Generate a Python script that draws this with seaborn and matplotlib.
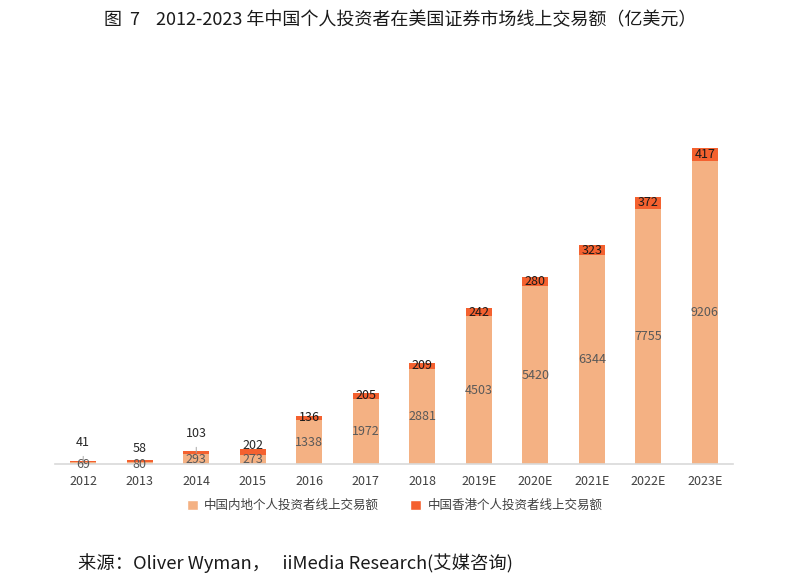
import seaborn as sns
import matplotlib.pyplot as plt
from matplotlib.patches import Patch
import numpy as np
import pandas as pd

years = ["2012", "2013", "2014", "2015", "2016", "2017", "2018",
         "2019E", "2020E", "2021E", "2022E", "2023E"]
mainland = [69, 80, 293, 273, 1338, 1972, 2881, 4503, 5420, 6344, 7755, 9206]
hongkong = [41, 58, 103, 202, 136, 205, 209, 242, 280, 323, 372, 417]

c_main = '#F4B183'
c_hk = '#F4612F'

sns.set_style("white")
plt.rcParams['font.family'] = ['Noto Sans CJK SC', 'DejaVu Sans']

df = pd.DataFrame({"year": years, "mainland": mainland, "hk": hongkong})
df["total"] = df["mainland"] + df["hk"]

fig = plt.figure(figsize=(7.85, 5.78), dpi=100)
ax = fig.add_axes([0.07, 0.197, 0.864, 0.57])

# total first (HK colour), mainland drawn on top -> stacked look
sns.barplot(data=df, x="year", y="total", color=c_hk, width=0.46,
            saturation=1, linewidth=0, ax=ax)
sns.barplot(data=df, x="year", y="mainland", color=c_main, width=0.46,
            saturation=1, linewidth=0, ax=ax)

ax.set_xlim(-0.5, len(years) - 0.5)
ax.set_ylim(0, 9623 / (464 - 147) * (464 - 134))
ax.set_xlabel("")
ax.set_ylabel("")
ax.set_yticks([])
for s in ["top", "right", "left"]:
    ax.spines[s].set_visible(False)
ax.spines["bottom"].set_color("#D9D9D9")
ax.spines["bottom"].set_linewidth(1.2)
ax.tick_params(axis="x", length=0, labelsize=9, colors="#404040", pad=8)

# value labels; tiny bars get their HK label lifted above the bar
lift = {0: 13.5, 1: 8.5, 2: 14, 3: 4.5}   # pts
lead = {0, 2}
for i, (m, h) in enumerate(zip(mainland, hongkong)):
    if i in lift:
        ax.annotate(str(h), xy=(i, m + h / 2), xytext=(0, lift[i]), textcoords="offset points",
                    ha="center", va="center", fontsize=9, color="#262626",
                    arrowprops=dict(arrowstyle="-", color="#A6A6A6", lw=0.7,
                                    shrinkA=3, shrinkB=0) if i in lead else None)
        ax.annotate(str(m), xy=(i, m / 2), xytext=(0, -1 if i < 2 else 0), textcoords="offset points",
                    ha="center", va="center", fontsize=9, color="#595959")
    else:
        ax.text(i, m / 2, str(m), ha="center", va="center", fontsize=9, color="#595959")
        ax.text(i, m + h / 2, str(h), ha="center", va="center", fontsize=9, color="#1a1a1a")

fig.text(0.51, 0.965, "图  7    2012-2023 年中国个人投资者在美国证券市场线上交易额（亿美元）",
         ha="center", va="center", fontsize=13, color="#1a1a1a")

handles = [Patch(facecolor=c_main, label="中国内地个人投资者线上交易额"),
           Patch(facecolor=c_hk, label="中国香港个人投资者线上交易额")]
fig.legend(handles=handles, loc="center", bbox_to_anchor=(0.503, 0.125), ncol=2,
           frameon=False, fontsize=9, handlelength=0.85, handleheight=0.85,
           columnspacing=2.5, handletextpad=0.5, labelcolor="#404040")

fig.text(0.1, 0.026, "来源：Oliver Wyman，   iiMedia Research(艾媒咨询)",
         ha="left", va="center", fontsize=13.2, color="#1a1a1a")

plt.savefig("out.png", dpi=100)
